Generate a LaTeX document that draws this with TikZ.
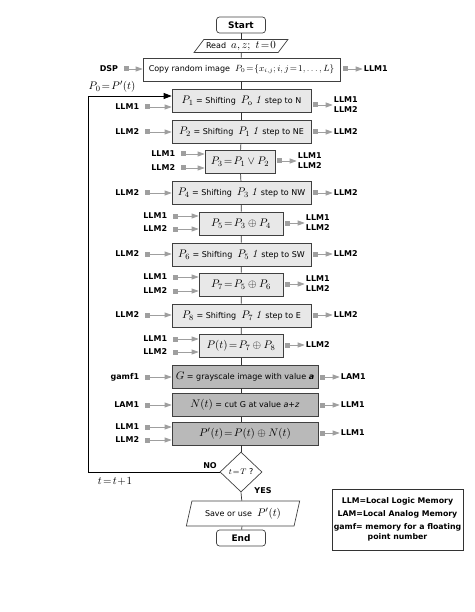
\documentclass[tikz,border=0pt]{standalone}
\usepackage[no-math]{fontspec}
\setmainfont{DejaVu Sans}
\usetikzlibrary{shapes.geometric,arrows.meta,positioning}

\newcommand\mth[1]{{\fontsize{11}{12}\selectfont$#1$}}

\tikzset{
  proc/.style={draw=black!75, line width=0.7pt, fill=gray!18, minimum width=139pt, minimum height=23pt,
    inner sep=1pt, font=\fontsize{8}{9}\selectfont},
  small/.style={proc, minimum width=84pt},
  dark/.style={proc, fill=gray!55, minimum width=146pt},
  term/.style={draw=black!75, line width=0.7pt, rounded corners=3pt, minimum width=49pt, minimum height=16pt,
    inner sep=1pt, font=\bfseries\fontsize{9}{10}\selectfont},
  io/.style={draw=black!75, line width=0.7pt, trapezium, trapezium stretches=true, inner sep=1pt,
    font=\fontsize{8}{9}\selectfont},
  mem/.style={fill=gray!75, minimum size=5pt, inner sep=0pt},
  lbl/.style={font=\bfseries\fontsize{8}{10}\selectfont, inner sep=1pt, align=left},
  feed/.style={draw=gray!75, line width=0.8pt, -{Triangle[length=7pt,width=5pt]}},
  flow/.style={draw=black!80, line width=0.7pt},
}

\begin{document}
\begin{tikzpicture}[x=1pt,y=-1pt]
  \useasboundingbox (0,0) rectangle (474,612);

  % main column
  \node[term] (start) at (241,25) {Start};
  \node[io, trapezium left angle=50, trapezium right angle=130, minimum width=94pt,
    minimum height=13pt] (read) at (241,46) {Read \ \mth{a,z;}\ \ \mth{t\!=\!0}};
  \node[proc, fill=white, minimum width=197pt] (copy) at (241.5,69.5)
    {Copy random image \ {\fontsize{9}{10}\selectfont$P_0\!=\!\{x_{i,j};i,j\!=\!1,\ldots,L\}$}};
  \node[proc] (p1) at (241.5,100.5) {\mth{P_1} = Shifting \ \mth{P_{\mathrm{o}}} \mth{\mathit{1}} step to N};
  \node[proc] (p2) at (241.5,132) {\mth{P_2} = Shifting \ \mth{P_1} \mth{\mathit{1}} step to NE};
  \node[small, minimum width=70pt] (p3) at (240,162) {\mth{P_3\!=\!P_1\vee P_2}};
  \node[proc] (p4) at (241.5,193) {\mth{P_4} = Shifting \ \mth{P_3} \mth{\mathit{1}} step to NW};
  \node[small] (p5) at (241,223.5) {\mth{P_5\!=\!P_3\oplus P_4}};
  \node[proc] (p6) at (241.5,254.5) {\mth{P_6} = Shifting \ \mth{P_5} \mth{\mathit{1}} step to SW};
  \node[small] (p7) at (241,284.5) {\mth{P_7\!=\!P_5\oplus P_6}};
  \node[proc] (p8) at (241.5,315.5) {\mth{P_8} = Shifting \ \mth{P_7} \mth{\mathit{1}} step to E};
  \node[small] (pt) at (241,346) {\mth{P(t)\!=\!P_7\oplus P_8}};
  \node[dark] (g) at (245,376.5) {\mth{G} = grayscale image with value \textbf{\textit{a}}};
  \node[dark] (n) at (245,405) {\mth{N(t)} = cut G at value \textit{a+z}};
  \node[dark] (pp) at (245,433.5) {\mth{P'(t)\!=\!P(t)\oplus N(t)}};
  \node[draw=black!75, line width=0.7pt, diamond, minimum width=42pt, minimum height=40pt, inner sep=0pt,
    font=\fontsize{8}{9}\selectfont] (dia) at (241,472) {$t\!=\!T$ ?};
  \node[io, trapezium left angle=72, trapezium right angle=108, minimum width=114pt,
    minimum height=25pt] (save) at (243,513.5) {Save or use \ \mth{P'(t)}};
  \node[term] (end) at (241,538) {End};

  % flow line
  \draw[flow] (start) -- (read);
  \draw[flow] (read) -- (copy);
  \draw[flow] (copy) -- (p1);
  \draw[flow] (p1) -- (p2);
  \draw[flow] (p2) -- (p3);
  \draw[flow] (p3) -- (p4);
  \draw[flow] (p4) -- (p5);
  \draw[flow] (p5) -- (p6);
  \draw[flow] (p6) -- (p7);
  \draw[flow] (p7) -- (p8);
  \draw[flow] (p8) -- (pt);
  \draw[flow] (pt.south) -- (pt.south |- g.north);
  \draw[flow] (pt.south |- g.south) -- (pt.south |- n.north);
  \draw[flow] (pt.south |- n.south) -- (pt.south |- pp.north);
  \draw[flow] (pt.south |- pp.south) -- (dia.north);
  \draw[flow] (dia.south) -- (save);
  \draw[flow] (save) -- (end);

  % loop back
  \coordinate (back) at (88,96);
  \draw[flow, draw=black, line width=0.8pt, -{Triangle[length=8pt,width=6pt]}] (dia.west) -| (back) -- (back -| p1.west);
  \node[inner sep=0pt] (pnew) at (112,87) {\mth{P_0\!=\!P'(t)}};
  \node[inner sep=0pt] (tinc) at (115,481) {\mth{t\!=\!t\!+\!1}};
  \node[lbl] (no) at (210,466) {NO};
  \node[lbl] (yes) at (263,491) {YES};

  % memory inputs
  \foreach \n/\x/\y/\t/\b in {1/126/69/DSP/copy, 2/147/107/LLM1/p1, 3/147/132/LLM2/p2,
      4/183/154/LLM1/p3, 5/183/168/LLM2/p3, 6/147/193/LLM2/p4, 7/175/216/LLM1/p5,
      8/175/229/LLM2/p5, 9/147/254/LLM2/p6, 10/175/277/LLM1/p7, 11/175/291/LLM2/p7,
      12/147/315/LLM2/p8, 13/175/339/LLM1/pt, 14/175/352/LLM2/pt, 15/147/377/gamf1/g,
      16/147/405/LAM1/n, 17/147/427/LLM1/pp, 18/147/440/LLM2/pp} {
    \node[mem] (i\n) at (\x,\y) {};
    \node[lbl, left=4pt of i\n] (li\n) {\t};
    \draw[feed] (i\n.east) -- (i\n -| \b.west);
  }

  % memory outputs
  \foreach \n/\x/\y/\t in {1/345/69/LLM1, 2/315/105/{LLM1\\LLM2}, 3/315/132/LLM2,
      4/279/161/{LLM1\\LLM2}, 5/315/193/LLM2, 6/287/223/{LLM1\\LLM2}, 7/315/254/LLM2,
      8/287/284/{LLM1\\LLM2}, 9/315/315/LLM2, 10/287/345/LLM2, 11/322/377/LAM1,
      12/322/405/LLM1, 13/322/433/LLM1} {
    \node[mem] (o\n) at (\x,\y) {};
    \node[lbl, right=15pt of o\n] (lo\n) {\t};
    \draw[feed] (o\n.east) -- (lo\n.west);
  }

  % legend
  \node[draw=black!80, line width=0.7pt, minimum width=131pt, minimum height=61pt, align=center,
    inner sep=1pt, font=\bfseries\fontsize{7.8}{10}\selectfont] (legend) at (397.5,519.5)
    {LLM=Local Logic Memory\\[3pt]LAM=Local Analog Memory\\[3pt]gamf= memory for a floating\\point number};
\end{tikzpicture}
\end{document}
